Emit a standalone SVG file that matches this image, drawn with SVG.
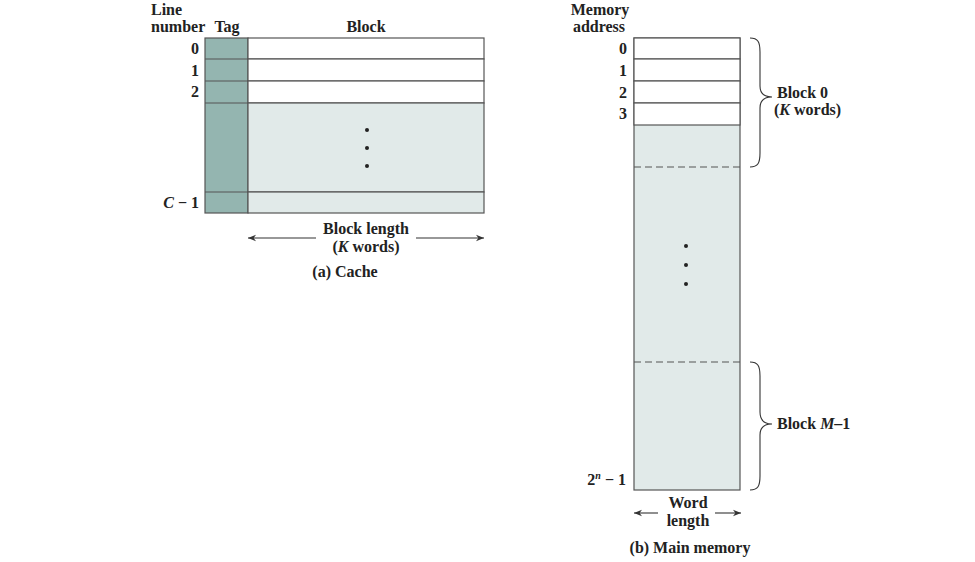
<svg xmlns="http://www.w3.org/2000/svg" width="975" height="562" viewBox="0 0 975 562">
<style>
text{font-family:"Liberation Serif","Times New Roman",serif;font-weight:bold;font-size:16px;fill:#222}
.r{text-anchor:end}
.m{text-anchor:middle}
.cell{stroke:#555;stroke-width:1.2}
.w{fill:#fff}
.s{fill:#e1eae9}
.t{fill:#94b5b0}
.ln{stroke:#555;stroke-width:1.2;fill:none}
.dash{stroke:#555;stroke-width:1.2;stroke-dasharray:7,4;fill:none}
.br{stroke:#333;stroke-width:1.1;fill:none}
.ar{stroke:#333;stroke-width:1.1;fill:none}
</style>
<defs>
<marker id="ah" viewBox="0 0 10 10" refX="10" refY="5" markerWidth="11" markerHeight="8" orient="auto-start-reverse" markerUnits="userSpaceOnUse">
<path d="M0,1 L10,5 L0,9 L3,5 Z" fill="#333"/>
</marker>
</defs>

<g id="cache">
<rect class="cell t" x="205" y="38" width="43" height="175"/>
<rect class="cell w" x="248" y="38" width="236" height="21"/>
<rect class="cell w" x="248" y="59" width="236" height="22"/>
<rect class="cell w" x="248" y="81" width="236" height="22"/>
<rect class="cell s" x="248" y="103" width="236" height="89"/>
<rect class="cell s" x="248" y="192" width="236" height="21"/>
<line class="ln" x1="205" y1="59" x2="248" y2="59"/>
<line class="ln" x1="205" y1="81" x2="248" y2="81"/>
<line class="ln" x1="205" y1="103" x2="248" y2="103"/>
<line class="ln" x1="205" y1="192" x2="248" y2="192"/>
<circle cx="367" cy="130" r="2" fill="#222"/>
<circle cx="367" cy="148" r="2" fill="#222"/>
<circle cx="367" cy="166" r="2" fill="#222"/>
<text x="151" y="15" font-size="15">Line</text>
<text x="151" y="32" font-size="15">number</text>
<text x="227" y="32" class="m">Tag</text>
<text x="366" y="32" class="m">Block</text>
<text x="199" y="54" class="r">0</text>
<text x="199" y="76" class="r">1</text>
<text x="199" y="97" class="r">2</text>
<text x="199" y="208" class="r"><tspan font-style="italic">C</tspan> − 1</text>
<text x="366" y="234" class="m">Block length</text>
<text x="366" y="252" class="m">(<tspan font-style="italic">K</tspan> words)</text>
<text x="345" y="277" class="m">(a) Cache</text>
</g>

<g id="memory">
<rect class="cell s" x="634" y="38" width="106" height="452"/>
<rect class="cell w" x="634" y="38" width="106" height="21"/>
<rect class="cell w" x="634" y="59" width="106" height="22"/>
<rect class="cell w" x="634" y="81" width="106" height="22"/>
<rect class="cell w" x="634" y="103" width="106" height="22"/>
<line class="dash" x1="634" y1="167" x2="740" y2="167"/>
<line class="dash" x1="634" y1="362" x2="740" y2="362"/>
<circle cx="686" cy="246" r="2" fill="#222"/>
<circle cx="686" cy="265" r="2" fill="#222"/>
<circle cx="686" cy="284" r="2" fill="#222"/>
<text x="600" y="15" class="m">Memory</text>
<text x="599" y="32" class="m">address</text>
<text x="627" y="54" class="r">0</text>
<text x="627" y="76" class="r">1</text>
<text x="627" y="98" class="r">2</text>
<text x="627" y="119" class="r">3</text>
<text x="626" y="485" class="r">2<tspan font-size="10" dy="-6" font-style="italic">n</tspan><tspan dy="6"> − 1</tspan></text>
<text x="688" y="508" class="m">Word</text>
<text x="688" y="526" class="m">length</text>
<text x="690" y="553" class="m">(b) Main memory</text>
</g>

<g id="brace-block0">
<path class="br" d="M750,38 C758,38 760,42 760,52 L760,86 C760,94 764,97 772,97 C764,97 760,100 760,108 L760,153 C760,163 758,167 750,167"/>
<text x="777" y="98">Block 0</text>
<text x="774" y="115">(<tspan font-style="italic">K</tspan> words)</text>
</g>

<g id="brace-blockM">
<path class="br" d="M750,362 C758,362 760,366 760,376 L760,412 C760,420 764,424 772,424 C764,424 760,427 760,435 L760,476 C760,486 758,490 750,490"/>
<text x="777" y="429">Block <tspan font-style="italic">M</tspan>–1</text>
</g>

<g id="connectors">
<line class="ar" x1="316" y1="238" x2="248" y2="238" marker-end="url(#ah)"/>
<line class="ar" x1="416" y1="238" x2="484" y2="238" marker-end="url(#ah)"/>
<line class="ar" x1="658" y1="513" x2="634" y2="513" marker-end="url(#ah)"/>
<line class="ar" x1="715" y1="513" x2="741" y2="513" marker-end="url(#ah)"/>
</g>
</svg>
